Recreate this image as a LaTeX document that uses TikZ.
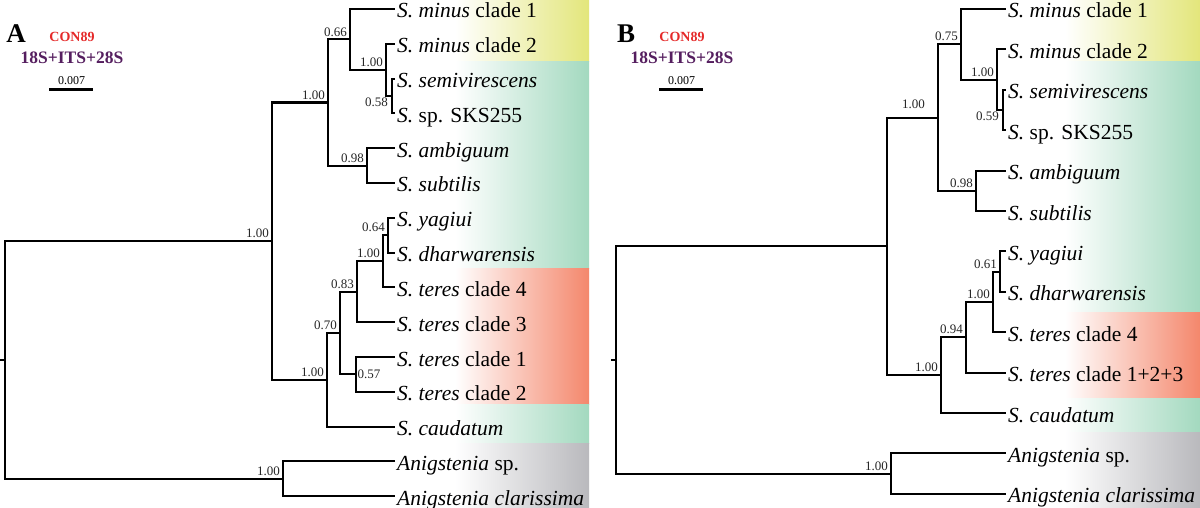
\documentclass[tikz,border=0pt]{standalone}
\usepackage{fontspec}
\setmainfont{Liberation Serif}
\definecolor{cyel}{HTML}{E3E67B}
\definecolor{cgrn}{HTML}{A3D9BF}
\definecolor{cred}{HTML}{F4876C}
\definecolor{cgry}{HTML}{B9B9BD}
\definecolor{conred}{HTML}{E52A2A}
\definecolor{cpur}{HTML}{551E5F}
\tikzset{
  br/.style={line width=2.1pt, line join=miter},
  tiplab/.style={anchor=base west, inner sep=0pt, font=\fontsize{21.5}{25}\selectfont},
  sv/.style={anchor=south east, inner sep=0pt, xshift=-3pt, yshift=3pt, font=\fontsize{13}{15}\selectfont, text=black!85},
  panellab/.style={inner sep=0pt, font=\bfseries\fontsize{27}{30}\selectfont},
  conlab/.style={inner sep=0pt, text=conred, font=\bfseries\fontsize{14}{16}\selectfont},
  genlab/.style={inner sep=0pt, text=cpur, font=\bfseries\fontsize{17.5}{20}\selectfont},
  scalelab/.style={inner sep=0pt, font=\fontsize{12}{14}\selectfont},
  sbar/.style={line width=2.2pt},
}
\begin{document}
\begin{tikzpicture}[x=1pt,y=-1pt]
\useasboundingbox (0,0) rectangle (1200,508);
\fill[white] (0,0) rectangle (1200,508);
% ---------- colour bands, panel A
\shade[left color=white,right color=cyel] (455,0) rectangle (589,62);
\shade[left color=white,right color=cgrn] (455,62) rectangle (589,268);
\shade[left color=white,right color=cred] (455,268) rectangle (589,404);
\shade[left color=white,right color=cgrn] (455,404) rectangle (589,443);
\shade[left color=white,right color=cgry] (455,443) rectangle (589,508);
% ---------- colour bands, panel B
\shade[left color=white,right color=cyel] (1065,0) rectangle (1200,62);
\shade[left color=white,right color=cgrn] (1065,62) rectangle (1200,312);
\shade[left color=white,right color=cred] (1065,312) rectangle (1200,398);
\shade[left color=white,right color=cgrn] (1065,398) rectangle (1200,432);
\shade[left color=white,right color=cgry] (1065,432) rectangle (1200,508);

% ---------- headers
\node[panellab] (hA) at (16,34) {A};
\node[conlab] (cA) at (72,37) {CON89};
\node[genlab] (gA) at (72,57.5) {18S+ITS+28S};
\node[scalelab] (sA) at (71.5,80.5) {0.007};
\coordinate (sbA1) at (49,89.5); \coordinate (sbA2) at (93,89.5);
\draw[sbar] (sbA1) -- (sbA2);

\node[panellab] (hB) at (626,34) {B};
\node[conlab] (cB) at (682,37) {CON89};
\node[genlab] (gB) at (682,57.5) {18S+ITS+28S};
\node[scalelab] (sB) at (681.5,80.5) {0.007};
\coordinate (sbB1) at (659,89.5); \coordinate (sbB2) at (703,89.5);
\draw[sbar] (sbB1) -- (sbB2);

% ================= PANEL A tree
% tips
\coordinate (la1) at (395,9);
\coordinate (la2) at (395,43.8);
\coordinate (la3) at (395,78.6);
\coordinate (la4) at (395,113.4);
\coordinate (la5) at (395,148.2);
\coordinate (la6) at (395,183);
\coordinate (la7) at (395,217.8);
\coordinate (la8) at (395,252.6);
\coordinate (la9) at (395,287.4);
\coordinate (la10) at (395,322.2);
\coordinate (la11) at (395,357);
\coordinate (la12) at (395,391.8);
\coordinate (la13) at (395,426.6);
\coordinate (la14) at (395,461.4);
\coordinate (la15) at (395,496.2);
\node[tiplab] (LA1) at (397,18) {\textit{S. minus} clade 1};
\node[tiplab] (LA2) at (397,52.8) {\textit{S. minus} clade 2};
\node[tiplab] (LA3) at (397,87.6) {\textit{S. semivirescens}};
\node[tiplab] (LA4) at (397,122.4) {\textit{S.} sp. SKS255};
\node[tiplab] (LA5) at (397,157.2) {\textit{S. ambiguum}};
\node[tiplab] (LA6) at (397,192) {\textit{S. subtilis}};
\node[tiplab] (LA7) at (397,226.8) {\textit{S. yagiui}};
\node[tiplab] (LA8) at (397,261.6) {\textit{S. dharwarensis}};
\node[tiplab] (LA9) at (397,296.4) {\textit{S. teres} clade 4};
\node[tiplab] (LA10) at (397,331.2) {\textit{S. teres} clade 3};
\node[tiplab] (LA11) at (397,366) {\textit{S. teres} clade 1};
\node[tiplab] (LA12) at (397,400.8) {\textit{S. teres} clade 2};
\node[tiplab] (LA13) at (397,435.6) {\textit{S. caudatum}};
\node[tiplab] (LA14) at (397,470.4) {\textit{Anigstenia} sp.};
\node[tiplab] (LA15) at (397,505.2) {\textit{Anigstenia clarissima}};
% internal nodes
\coordinate (a058) at (392,96);
\coordinate (a100b) at (386,69.9);
\coordinate (a066) at (350,39.45);
\coordinate (a098) at (367,165.6);
\coordinate (aup) at (328,102.5);
\coordinate (a064) at (388,235.2);
\coordinate (a100c) at (383,261.3);
\coordinate (a083) at (357,291.75);
\coordinate (a057) at (356,374.4);
\coordinate (a070) at (340,333.1);
\coordinate (alow) at (327,379.85);
\coordinate (aing) at (272,241.2);
\coordinate (aout) at (283,478.8);
\coordinate (aroot) at (5,360);
\coordinate (astub) at (0,360);
\draw[br] (astub) -- (aroot);
\draw[br] (aroot) |- (aing);  \draw[br] (aroot) |- (aout);
\draw[br] (aing) |- (aup);    \draw[br] (aing) |- (alow);
\draw[br] (aup) |- (a066);    \draw[br] (aup) |- (a098);
\draw[br] (a066) |- (la1);    \draw[br] (a066) |- (a100b);
\draw[br] (a100b) |- (la2);   \draw[br] (a100b) |- (a058);
\draw[br] (a058) |- (la3);    \draw[br] (a058) |- (la4);
\draw[br] (a098) |- (la5);    \draw[br] (a098) |- (la6);
\draw[br] (alow) |- (a070);   \draw[br] (alow) |- (la13);
\draw[br] (a070) |- (a083);   \draw[br] (a070) |- (a057);
\draw[br] (a083) |- (a100c);  \draw[br] (a083) |- (la10);
\draw[br] (a100c) |- (a064);  \draw[br] (a100c) |- (la9);
\draw[br] (a064) |- (la7);    \draw[br] (a064) |- (la8);
\draw[br] (a057) |- (la11);   \draw[br] (a057) |- (la12);
\draw[br] (aout) |- (la14);   \draw[br] (aout) |- (la15);
% support values
\node[sv] (vaing) at (aing) {1.00};
\node[sv] (vaup) at (aup) {1.00};
\node[sv] (va066) at (a066) {0.66};
\node[sv] (va100b) at (a100b) {1.00};
\node[sv, anchor=north east, xshift=-1pt, yshift=-5pt] (va058) at (a058) {0.58};
\node[sv] (va098) at (a098) {0.98};
\node[sv] (valow) at (alow) {1.00};
\node[sv] (va070) at (a070) {0.70};
\node[sv] (va083) at (a083) {0.83};
\node[sv] (va100c) at (a100c) {1.00};
\node[sv] (va064) at (a064) {0.64};
\node[sv, anchor=west, xshift=4.5pt, yshift=-3pt] (va057) at (a057) {0.57};
\node[sv] (vaout) at (aout) {1.00};

% ================= PANEL B tree
\coordinate (lb1) at (1006,9);
\coordinate (lb2) at (1006,49.4);
\coordinate (lb3) at (1006,89.8);
\coordinate (lb4) at (1006,130.2);
\coordinate (lb5) at (1006,170.6);
\coordinate (lb6) at (1006,211);
\coordinate (lb7) at (1006,251.4);
\coordinate (lb8) at (1006,291.8);
\coordinate (lb9) at (1006,332.2);
\coordinate (lb10) at (1006,372.6);
\coordinate (lb11) at (1006,413);
\coordinate (lb12) at (1006,453.4);
\coordinate (lb13) at (1006,493.8);
\node[tiplab] (LB1) at (1008,18) {\textit{S. minus} clade 1};
\node[tiplab] (LB2) at (1008,58.4) {\textit{S. minus} clade 2};
\node[tiplab] (LB3) at (1008,98.8) {\textit{S. semivirescens}};
\node[tiplab] (LB4) at (1008,139.2) {\textit{S.} sp. SKS255};
\node[tiplab] (LB5) at (1008,179.6) {\textit{S. ambiguum}};
\node[tiplab] (LB6) at (1008,220) {\textit{S. subtilis}};
\node[tiplab] (LB7) at (1008,260.4) {\textit{S. yagiui}};
\node[tiplab] (LB8) at (1008,300.8) {\textit{S. dharwarensis}};
\node[tiplab] (LB9) at (1008,341.2) {\textit{S. teres} clade 4};
\node[tiplab] (LB10) at (1008,381.6) {\textit{S. teres} clade 1+2+3};
\node[tiplab] (LB11) at (1008,422) {\textit{S. caudatum}};
\node[tiplab] (LB12) at (1008,462.4) {\textit{Anigstenia} sp.};
\node[tiplab] (LB13) at (1008,502.8) {\textit{Anigstenia clarissima}};
\coordinate (b059) at (1003,110);
\coordinate (b100b) at (997,79.7);
\coordinate (b075) at (961,44.35);
\coordinate (b098) at (976,190.8);
\coordinate (bup) at (938,117.6);
\coordinate (b061) at (1000,271.6);
\coordinate (b100c) at (993,301.9);
\coordinate (b094) at (966,337.25);
\coordinate (blow) at (941,375.1);
\coordinate (bing) at (887,246.35);
\coordinate (bout) at (891,473.6);
\coordinate (broot) at (616,360);
\coordinate (bstub) at (611,360);
\draw[br] (bstub) -- (broot);
\draw[br] (broot) |- (bing);  \draw[br] (broot) |- (bout);
\draw[br] (bing) |- (bup);    \draw[br] (bing) |- (blow);
\draw[br] (bup) |- (b075);    \draw[br] (bup) |- (b098);
\draw[br] (b075) |- (lb1);    \draw[br] (b075) |- (b100b);
\draw[br] (b100b) |- (lb2);   \draw[br] (b100b) |- (b059);
\draw[br] (b059) |- (lb3);    \draw[br] (b059) |- (lb4);
\draw[br] (b098) |- (lb5);    \draw[br] (b098) |- (lb6);
\draw[br] (blow) |- (b094);   \draw[br] (blow) |- (lb11);
\draw[br] (b094) |- (b100c);  \draw[br] (b094) |- (lb10);
\draw[br] (b100c) |- (b061);  \draw[br] (b100c) |- (lb9);
\draw[br] (b061) |- (lb7);    \draw[br] (b061) |- (lb8);
\draw[br] (bout) |- (lb12);   \draw[br] (bout) |- (lb13);
\node[sv, xshift=-10pt, yshift=5.5pt] (vbup) at (bup) {1.00};
\node[sv] (vb075) at (b075) {0.75};
\node[sv] (vb100b) at (b100b) {1.00};
\node[sv, anchor=north east, xshift=-1pt, yshift=-5pt] (vb059) at (b059) {0.59};
\node[sv] (vb098) at (b098) {0.98};
\node[sv] (vblow) at (blow) {1.00};
\node[sv] (vb094) at (b094) {0.94};
\node[sv] (vb100c) at (b100c) {1.00};
\node[sv] (vb061) at (b061) {0.61};
\node[sv] (vbout) at (bout) {1.00};
\end{tikzpicture}
\end{document}
